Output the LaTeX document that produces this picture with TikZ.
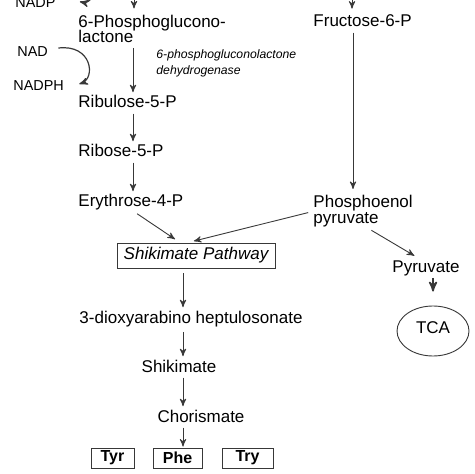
\documentclass[tikz,border=0pt]{standalone}
\usepackage{fontspec}
\setmainfont{Liberation Sans}
\usepackage{tikz}
\usetikzlibrary{arrows,shapes.geometric}
\definecolor{linegray}{HTML}{383838}
\setlength{\lineskiplimit}{-5pt}

\begin{document}
\begin{tikzpicture}[->,>=stealth',shorten >=1.5pt,shorten <=2.5pt,x=0.5pt,y=-0.5pt,
                    line width=0.45pt,draw=linegray,
                    main node/.style={inner sep=0pt,anchor=base west,font=\fontsize{8.5}{8}\selectfont},
                    cof node/.style={inner sep=0pt,anchor=base west,font=\fontsize{7.2}{7.2}\selectfont},
                    enz node/.style={inner sep=0pt,anchor=north west,align=left,font=\fontsize{6.1}{8}\selectfont\itshape},
                    aa node/.style={draw,inner sep=0pt,minimum height=10pt,font=\fontsize{8}{8}\selectfont\bfseries}]

  \useasboundingbox (0,0) rectangle (474,474);
  \clip (0,0) rectangle (474,474);

  % columns and loose ends
  \coordinate (colL) at (133,0);
  \coordinate (colR) at (353,0);
  \coordinate (colC) at (183,0);
  \coordinate (inL) at (134,-12);
  \coordinate (inR) at (352,-12);
  \coordinate (inNADP) at (92,-16);

  \node[cof node] (nadp) at (15,8) {NADP};
  \node[cof node] (nad) at (17,57) {NAD};
  \node[cof node] (nadph) at (13,91) {NADPH};

  \node[main node,align=left,anchor=north west,font=\fontsize{8.5}{7.5}\selectfont] (pgl) at (78,14.5) {6-Phosphoglucono-\\lactone};
  \node[enz node] (enz) at (156,49.5) {6-phosphogluconolactone\\dehydrogenase};
  \node[main node] (rul) at (78,108) {Ribulose-5-P};
  \node[main node] (rib) at (78,157) {Ribose-5-P};
  \node[main node] (ery) at (78,207) {Erythrose-4-P};

  \node[main node] (fru) at (313,27) {Fructose-6-P};
  \node[main node,align=left,anchor=north west] (pep) at (313,195) {Phosphoenol\\pyruvate};

  \node[draw,inner sep=0pt,minimum width=79pt,minimum height=12.5pt,font=\fontsize{8.5}{8.5}\selectfont\itshape] (shp) at (196,255.5) {Shikimate Pathway};

  \node[main node] (pyr) at (392,273) {Pyruvate};
  \node[ellipse,draw,inner sep=0pt,minimum width=36pt,minimum height=25pt,font=\fontsize{8.5}{8.5}\selectfont] (tca) at (433,331) {\raisebox{3.5pt}{TCA}};

  \node[main node,anchor=base] (dah) at (191,323) {3-dioxyarabino heptulosonate};
  \node[main node,anchor=base] (shk) at (179,372) {Shikimate};
  \node[main node,anchor=base] (cho) at (201,422) {Chorismate};

  \node[aa node,minimum width=21.5pt] (tyr) at (112.5,458) {Tyr};
  \node[aa node,minimum width=24.5pt] (phe) at (177.5,458) {Phe};
  \node[aa node,minimum width=25.5pt] (try) at (247.5,458) {Try};

  \path
    (inL) edge [shorten >=3pt] (pgl.north -| inL)
    (inR) edge [shorten >=3pt] (fru.north -| inR)

    (pgl.south -| colL) edge (rul.north -| colL)
    (rul.south -| colL) edge (rib.north -| colL)
    (rib.south -| colL) edge (ery.north -| colL)

    (fru.south -| colR) edge [shorten >=3pt] (pep.north -| colR)

    (ery.south -| colL) edge [shorten >=3pt] ([xshift=-8pt]shp.north)
    (pep.west) edge [shorten >=3pt] ([xshift=-4pt]shp.north)
    ([xshift=2pt]pep.south) edge [shorten >=5pt] ([xshift=-1.5pt]pyr.north)
    (pyr.south -| tca.north) edge [line width=0.8pt,shorten <=0.5pt,shorten >=7pt] (tca.north)

    (shp.south -| colC) edge (dah.north -| colC)
    (dah.south -| colC) edge (shk.north -| colC)
    (shk.south -| colC) edge (cho.north -| colC)
    (cho.south -| colC) edge [shorten >=0.5pt] (phe.north -| colC)
  ;

  \draw[line width=0.6pt,shorten <=0pt] (inNADP) .. controls (95,-4) and (90,4) .. ([xshift=10.5pt,yshift=1pt]nadp.east);
  \draw[line width=0.6pt,shorten <=0pt,shorten >=0pt] ([xshift=5pt,yshift=2pt]nad.east) .. controls (92,44) and (96,78) .. ([xshift=7.5pt,yshift=1pt]nadph.east);
\end{tikzpicture}
\end{document}
